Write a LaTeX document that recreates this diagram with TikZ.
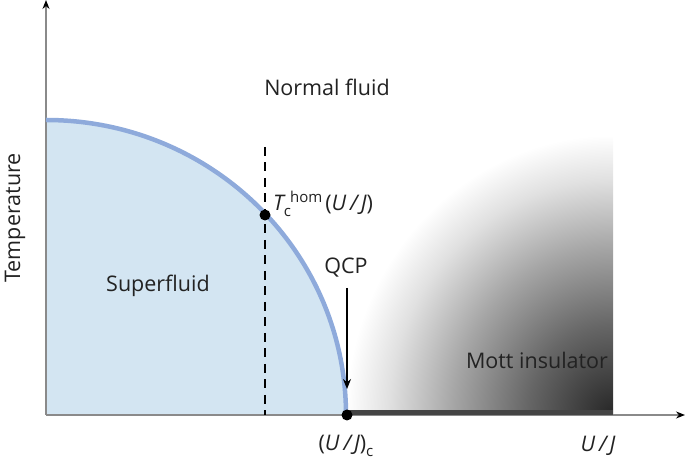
\documentclass[tikz,border=0pt]{standalone}
\usepackage{fontspec}
\setmainfont{Open Sans}
\usetikzlibrary{arrows.meta}
\definecolor{sfFill}{HTML}{D3E5F2}
\definecolor{sfLine}{HTML}{8EAADB}
\definecolor{axisGray}{HTML}{8A8A8A}
\definecolor{mottBar}{HTML}{444444}
\definecolor{txt}{HTML}{222222}
\pgfdeclareradialshading{mottshade}{\pgfpoint{0bp}{0bp}}{color(0bp)=(black!85); color(8bp)=(black!60); color(15bp)=(black!35); color(21bp)=(black!12); color(25bp)=(white); color(50bp)=(white)}
\newcommand{\smallsz}{\fontsize{15}{15}\selectfont}
\newcommand{\uj}{\itshape U\kern4pt/\kern3pt J\upshape}
\begin{document}
\begin{tikzpicture}[x=1pt,y=1pt,
  lbl/.style={text=txt,font=\fontsize{21.5}{24}\selectfont,inner sep=0pt},
  axis/.style={draw=axisGray,line width=1.3pt},
  dot/.style={circle,fill=black,inner sep=0pt,minimum size=11pt}]
\useasboundingbox (0,0) rectangle (685,473);
% Mott gradient
\begin{scope}
  \clip (346,58) rectangle (613,335);
  \shade[shading=mottshade] (346,-222) rectangle (880,338);
\end{scope}
% superfluid region
\fill[sfFill] (46,58) -- (46,353) arc[start angle=90,end angle=0,x radius=300,y radius=295] -- cycle;
% axes
\coordinate (O) at (46,58);
\coordinate (xend) at (685,58);
\coordinate (yend) at (46,473);
\draw[axis,-{Stealth[length=9pt,width=7pt,color=black]}] (O) -- (xend);
\draw[axis,-{Stealth[length=9pt,width=7pt,color=black]}] (O) -- (yend);
% Mott bar
\coordinate (mb1) at (347,60.5);
\coordinate (mb2) at (613,60.5);
\draw[mottBar,line width=5.5pt] (mb1) -- (mb2);
% boundary
\draw[sfLine,line width=4.5pt] (46,353) arc[start angle=90,end angle=0,x radius=300,y radius=295];
% dashed line
\coordinate (dl1) at (265,58);
\coordinate (dl2) at (265,326);
\draw[black,line width=2.4pt,dash pattern=on 9pt off 6.5pt] (dl2) -- (dl1);
% dots
\node[dot] (tc) at (265,258) {};
\node[dot] (qcp) at (347,58) {};
% labels
\node[lbl] (normal) at (327,386) {Normal fluid};
\node[lbl,rotate=90] (temp) at (15,255) {Temperature};
\node[lbl] (super) at (158,187) {Superfluid};
\node[lbl] (qcplbl) at (346,205) {QCP};
\node[lbl] (mott) at (537,113) {Mott insulator};
\node[lbl,anchor=base west] (tclbl) at (273,262) {\itshape T\upshape\raisebox{-6pt}{\smallsz c}\kern-1pt\raisebox{8pt}{\smallsz hom}\kern3pt(\uj)};
\node[lbl] (ujc) at (346,27) {(\uj)\raisebox{-6pt}{\smallsz c}};
\node[lbl] (uj) at (598,27) {\uj};
% QCP arrow
\coordinate (qa) at (347,84);
\draw[black,line width=1.3pt,-{Stealth[length=10pt,width=8pt]}] (qcplbl.south) ++(1,-10) -- (qa);
\end{tikzpicture}
\end{document}
